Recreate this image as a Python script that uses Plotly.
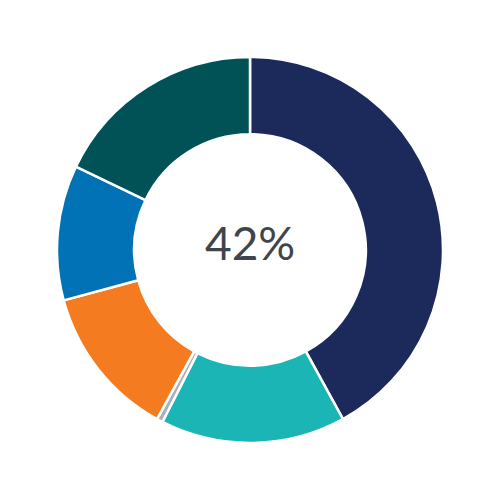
import plotly.graph_objects as go

labels = ["Navy", "Teal", "Grey", "Orange", "Blue", "Green"]
values = [42.0, 15.5, 0.5, 12.8, 11.3, 17.9]
colors = ["#1b2a5a", "#1bb5b5", "#a9afbe", "#f47b20", "#0072b5", "#005257"]
center_text = "42%"

fig = go.Figure()
fig.add_trace(go.Pie(
    labels=labels,
    values=values,
    hole=0.6,
    sort=False,
    direction="clockwise",
    rotation=0,
    textinfo="none",
    hoverinfo="label+percent",
    marker=dict(colors=colors, line=dict(color="white", width=2.5)),
    showlegend=False,
))

# center label, nudged up a little to sit where the reference has it
fig.add_annotation(
    text=center_text, x=0.5, y=0.52, xref="paper", yref="paper",
    showarrow=False, font=dict(family="Lato", size=46, color="#40444c"),
)

fig.update_layout(
    width=500, height=500,
    margin=dict(l=49, r=65, t=49, b=65),
    paper_bgcolor="white",
    plot_bgcolor="white",
)
fig.write_html("out.html")
